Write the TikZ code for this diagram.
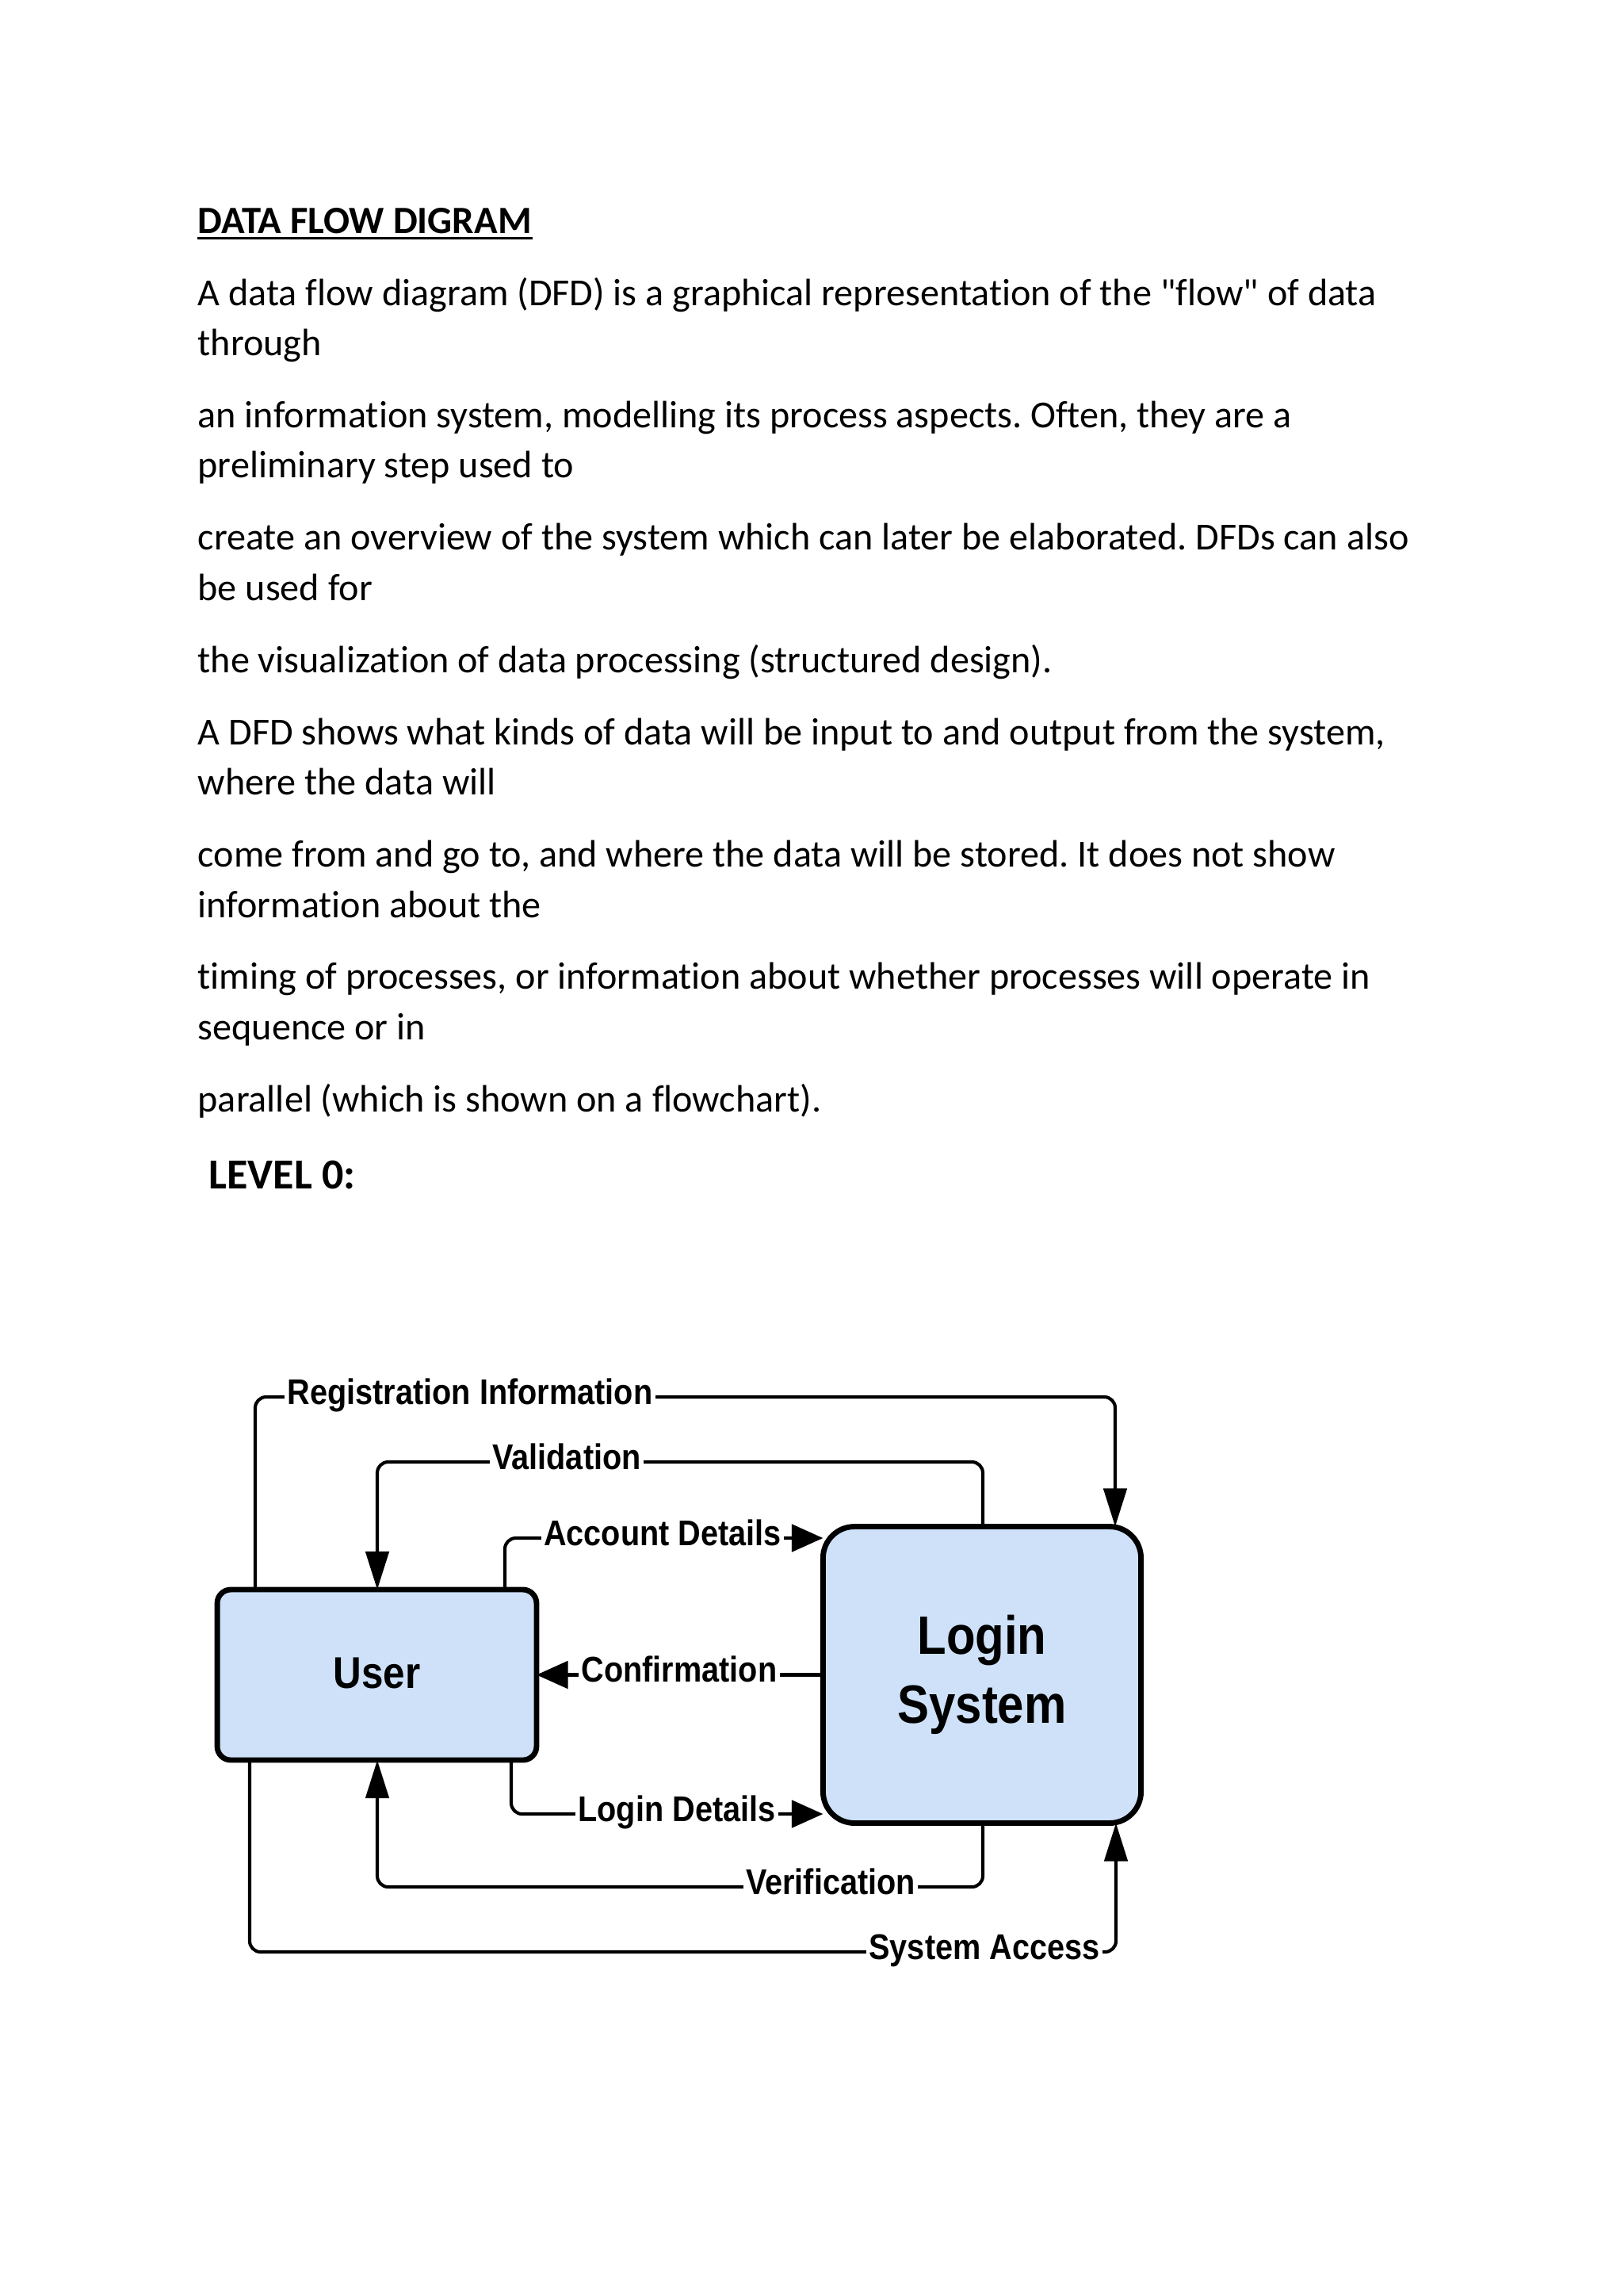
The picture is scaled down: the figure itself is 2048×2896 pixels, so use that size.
\documentclass[tikz,border=0pt]{standalone}
\usepackage{fontspec}
\setmainfont{Carlito}
\newfontfamily\bodyfont[Ligatures=NoCommon]{Carlito}
\newfontfamily\diagfont[FakeStretch=0.88]{Liberation Sans}
\usetikzlibrary{arrows.meta}
\definecolor{boxblue}{RGB}{206,225,248}
\frenchspacing
\begin{document}
\frenchspacing
\begin{tikzpicture}[x=0.29066pt,y=-0.29066pt,
  bodytext/.style={anchor=base west, inner sep=0pt, font=\bodyfont\frenchspacing\fontsize{14}{17}\selectfont},
  entity/.style={draw, line width=2pt, fill=boxblue, outer sep=0pt, inner sep=0pt, align=center},
  flow/.style={line width=1.2pt, rounded corners=4pt},
  vtip/.style={-{Triangle[length=14pt,width=8.5pt]}},
  htip/.style={-{Triangle[length=11.5pt,width=10pt]}},
  lbl/.style={anchor=base, fill=white, inner xsep=1pt, inner ysep=1pt,
    font=\diagfont\bfseries\fontsize{13.1}{15}\selectfont}]
\fill[white] (0,0) rectangle (2048,2896);
\useasboundingbox (0,0) rectangle (2048,2896);

% ---- text ----
\node[anchor=base west, inner sep=0pt, font=\bodyfont\bfseries\fontsize{14.2}{17}\selectfont] (title) at (249,294) {DATA FLOW DIGRAM};
\draw[line width=0.9pt] ([yshift=-1.9pt]title.base west) -- ([yshift=-1.9pt]title.base east);

\node[bodytext] (l1) at (249,385) {A data flow diagram (DFD) is a graphical representation of the \symbol{34}flow\symbol{34} of data};
\node[bodytext] (l2) at (249,448.5) {through};
\node[bodytext] (l3) at (249,539.4) {an information system, modelling its process aspects. Often, they are a};
\node[bodytext] (l4) at (249,602.9) {preliminary step used to};
\node[bodytext] (l5) at (249,693.8) {create an overview of the system which can later be elaborated. DFDs can also};
\node[bodytext] (l6) at (249,757.3) {be used for};
\node[bodytext] (l7) at (249,848.2) {the visualization of data processing (structured design).};
\node[bodytext] (l8) at (249,939.1) {A DFD shows what kinds of data will be input to and output from the system,};
\node[bodytext] (l9) at (249,1002.6) {where the data will};
\node[bodytext] (l10) at (249,1093.5) {come from and go to, and where the data will be stored. It does not show};
\node[bodytext] (l11) at (249,1157) {information about the};
\node[bodytext] (l12) at (249,1247.9) {timing of processes, or information about whether processes will operate in};
\node[bodytext] (l13) at (249,1311.4) {sequence or in};
\node[bodytext] (l14) at (249,1402.3) {parallel (which is shown on a flowchart).};
\node[anchor=base west, inner sep=0pt, font=\bodyfont\bfseries\fontsize{15.7}{18}\selectfont] (level) at (263,1499) {LEVEL 0:};

% ---- entities ----
\node[entity, minimum width=117.1pt, minimum height=62.5pt, rounded corners=5pt,
  font=\diagfont\bfseries\fontsize{16.3}{19}\selectfont] (user) at (475.5,2112.5) {\raisebox{1.5pt}{User}};
\node[entity, minimum width=116.6pt, minimum height=108.7pt, rounded corners=11.5pt,
  font=\diagfont\bfseries\fontsize{19.8}{25.3}\selectfont] (login) at (1239,2112.5) {Login\\System};

% ---- flows ----
\draw[flow, vtip] (user.north -| 322,0) -- (322,1762) -- (1407,1762) -- (login.north -| 1407,0);
\draw[flow, vtip] (login.north -| 1240,0) -- (1240,1844) -- (476,1844) -- (user.north -| 476,0);
\draw[flow, htip] (user.north -| 637,0) -- (637,1940) -- (login.west |- 0,1940);
\draw[flow, htip] (login.west) -- (user.east);
\draw[flow, htip] (user.south -| 645,0) -- (645,2288) -- (login.west |- 0,2288);
\draw[flow, vtip] (login.south -| 1240,0) -- (1240,2380) -- (476,2380) -- (user.south -| 476,0);
\draw[flow, vtip] (user.south -| 315,0) -- (315,2462) -- (1408,2462) -- (login.south -| 1408,0);

% ---- labels ----
\node[lbl] (lreg) at (593,1771) {Registration Information};
\node[lbl] (lval) at (715,1853) {Validation};
\node[lbl] (lacc) at (836,1949) {Account Details};
\node[lbl] (lcon) at (857,2121) {Confirmation};
\node[lbl] (llog) at (854,2297) {Login Details};
\node[lbl] (lver) at (1048,2389) {Verification};
\node[lbl] (lsys) at (1242,2471) {System Access};
\end{tikzpicture}
\end{document}
